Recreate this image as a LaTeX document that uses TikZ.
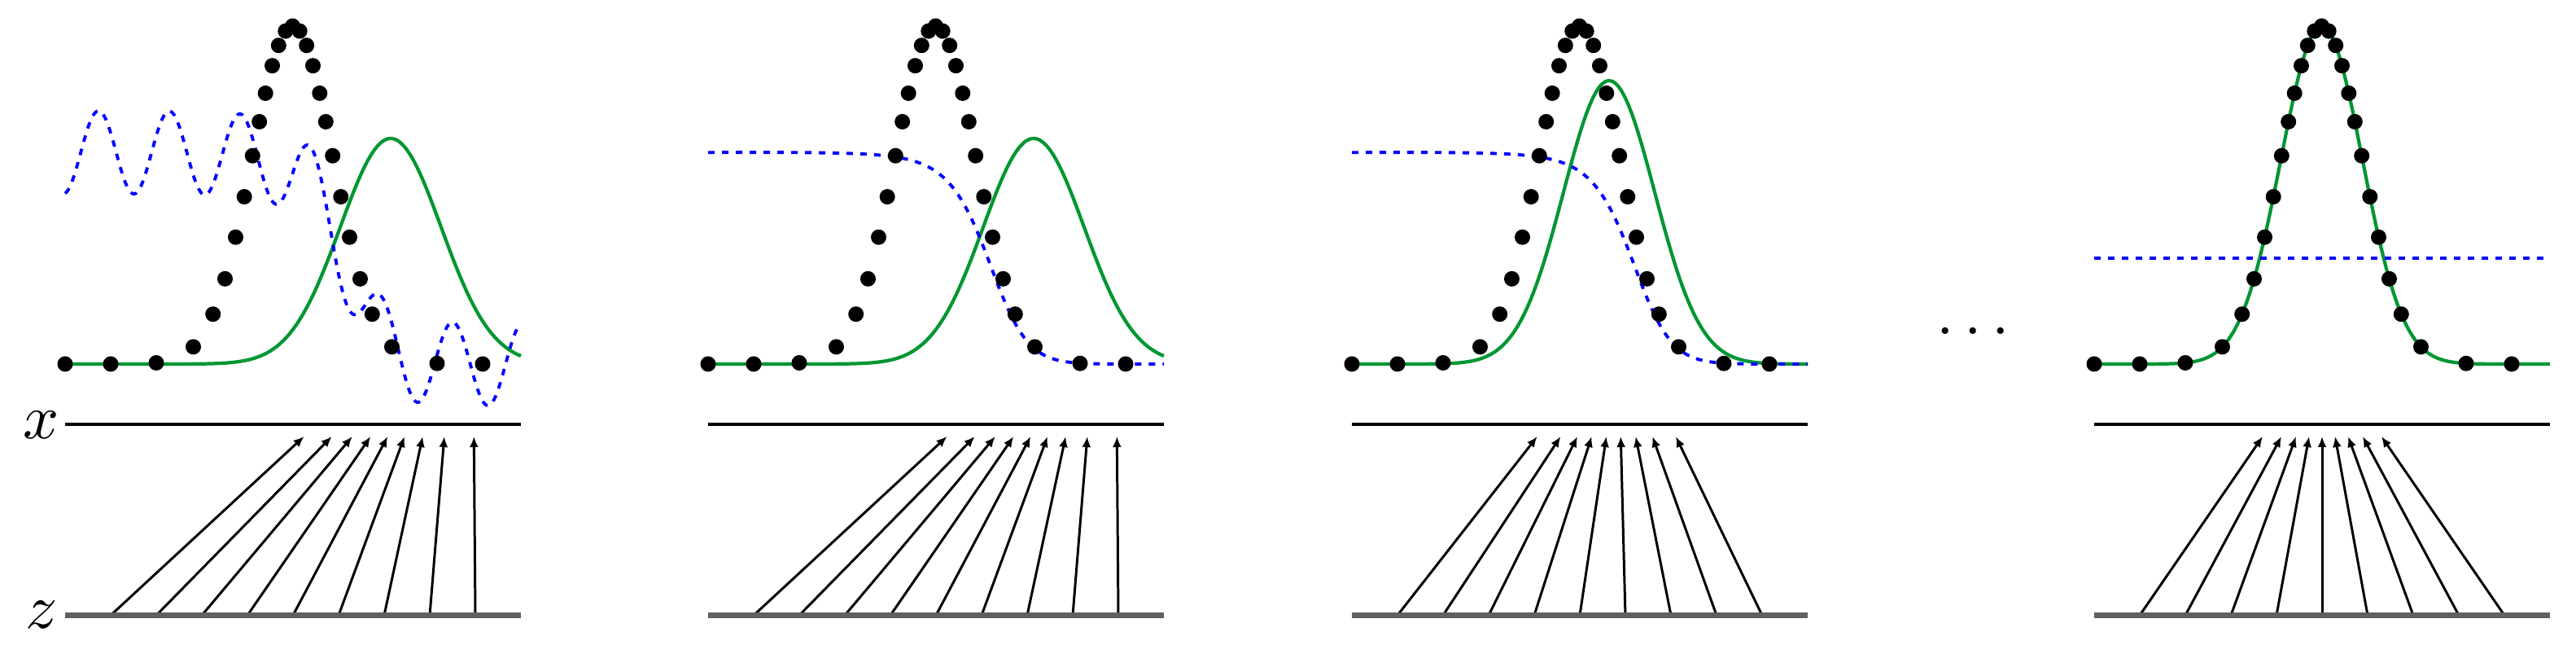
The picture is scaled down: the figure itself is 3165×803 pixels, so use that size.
\documentclass[tikz,border=0pt]{standalone}
\usetikzlibrary{arrows.meta}
\definecolor{dblue}{RGB}{0,0,255}
\definecolor{ggreen}{RGB}{0,150,50}
\definecolor{zgray}{RGB}{96,96,96}
\tikzset{
  declare function={
    datah(\t)=415*exp(max(-9,-0.5*((\t-279.5)/50)*((\t-279.5)/50)));
    gena(\t)=277*exp(max(-9,-0.5*((\t-400)/62)*((\t-400)/62)));
    genc(\t)=348*exp(max(-9,-0.5*((\t-316)/56)*((\t-316)/56)));
    disc(\t)=1/(1+exp(max(-9,min(9,-0.404-0.5*((\t-400)/62)*((\t-400)/62)+0.5*((\t-279.5)/50)*((\t-279.5)/50)))));
  },
  greenline/.style={ggreen,line width=1.2pt},
  blueline/.style={dblue,line width=1.1pt,dash pattern=on 0.8mm off 0.9mm},
  datadot/.style={fill=black},
  xaxis/.style={black,line width=1.3pt},
  zaxis/.style={zgray,line width=2pt},
  maparrow/.style={-{Latex[length=1.3mm,width=1.1mm]},line width=0.85pt},
  axislabel/.style={scale=2.2,inner sep=0pt}
}
\begin{document}
\begin{tikzpicture}[x=0.1mm,y=-0.1mm]
\useasboundingbox (0,0) rectangle (3165,803);

% ---------- common parts of the four panels ----------
\foreach \p/\s in {1/80,2/870,3/1661,4/2573} {
  \begin{scope}[shift={(\s,0)}]
    \coordinate (xa\p) at (0,521);
    \coordinate (xb\p) at (560,521);
    \draw[xaxis] (xa\p) -- (xb\p);
  \end{scope}
}

% ---------- panel 1 ----------
\begin{scope}[shift={(80,0)}]
  \draw[greenline] plot[domain=0:560,samples=141] (\x,{447-gena(\x)});
  \draw[blueline] plot[domain=0:557,samples=300] (\x,{447-260.7*disc(\x)-51*cos(4.137931*(\x-41))});
  \foreach \t in {0,56,112,157.5,181.7,196.5,209.5,220.2,230.3,238.7,246.2,254.5,262.3,270.8,279.5,288.2,296.7,304.5,312.8,320.3,328.7,338.8,349.5,362.5,377.3,401.5,457,513}
    \fill[datadot] (\t,{447-datah(\t)}) circle[radius=0.95mm];
  \foreach \k/\tx in {1/293.5,2/327.6,3/352.8,4/375.3,5/396.2,6/417,7/439.3,8/465.9,9/502.3} {
    \coordinate (za\k) at (56*\k,755.5);
    \coordinate (xt\k) at (\tx,536);
    \draw[maparrow] (za\k) -- (xt\k);
  }
  \coordinate (zs1) at (0,755.5);
  \coordinate (ze1) at (560,755.5);
  \draw[zaxis] (zs1) -- (ze1);
\end{scope}

% ---------- panel 2 ----------
\begin{scope}[shift={(870,0)}]
  \draw[greenline] plot[domain=0:560,samples=141] (\x,{447-gena(\x)});
  \draw[blueline] plot[domain=0:560,samples=141] (\x,{447-260.7*disc(\x)});
  \foreach \t in {0,56,112,157.5,181.7,196.5,209.5,220.2,230.3,238.7,246.2,254.5,262.3,270.8,279.5,288.2,296.7,304.5,312.8,320.3,328.7,338.8,349.5,362.5,377.3,401.5,457,513}
    \fill[datadot] (\t,{447-datah(\t)}) circle[radius=0.95mm];
  \foreach \k/\tx in {1/293.5,2/327.6,3/352.8,4/375.3,5/396.2,6/417,7/439.3,8/465.9,9/502.3} {
    \coordinate (zb\k) at (56*\k,755.5);
    \coordinate (xu\k) at (\tx,536);
    \draw[maparrow] (zb\k) -- (xu\k);
  }
  \coordinate (zs2) at (0,755.5);
  \coordinate (ze2) at (560,755.5);
  \draw[zaxis] (zs2) -- (ze2);
\end{scope}

% ---------- panel 3 ----------
\begin{scope}[shift={(1661,0)}]
  \draw[greenline] plot[domain=0:560,samples=141] (\x,{447-genc(\x)});
  \draw[blueline] plot[domain=0:560,samples=141] (\x,{447-260.7*disc(\x)});
  \foreach \t in {0,56,112,157.5,181.7,196.5,209.5,220.2,230.3,238.7,246.2,254.5,262.3,270.8,279.5,288.2,296.7,304.5,312.8,320.3,328.7,338.8,349.5,362.5,377.3,401.5,457,513}
    \fill[datadot] (\t,{447-datah(\t)}) circle[radius=0.95mm];
  \foreach \k/\tx in {1/227.7,2/256.4,3/277,4/294.6,5/312.6,6/330.3,7/348.7,8/369.3,9/398} {
    \coordinate (zc\k) at (56*\k,755.5);
    \coordinate (xv\k) at (\tx,536);
    \draw[maparrow] (zc\k) -- (xv\k);
  }
  \coordinate (zs3) at (0,755.5);
  \coordinate (ze3) at (560,755.5);
  \draw[zaxis] (zs3) -- (ze3);
\end{scope}

% ---------- panel 4 ----------
\begin{scope}[shift={(2573,0)}]
  \draw[greenline] plot[domain=0:560,samples=141] (\x,{447-datah(\x)});
  \coordinate (da4) at (0,316.6);
  \coordinate (db4) at (558,316.6);
  \draw[blueline] (da4) -- (db4);
  \foreach \t in {0,56,112,157.5,181.7,196.5,209.5,220.2,230.3,238.7,246.2,254.5,262.3,270.8,279.5,288.2,296.7,304.5,312.8,320.3,328.7,338.8,349.5,362.5,377.3,401.5,457,513}
    \fill[datadot] (\t,{447-datah(\t)}) circle[radius=0.95mm];
  \foreach \k/\tx in {1/207,2/230,3/248,4/264,5/280,6/296,7/312,8/330,9/353} {
    \coordinate (zd\k) at (56*\k,755.5);
    \coordinate (xw\k) at (\tx,536);
    \draw[maparrow] (zd\k) -- (xw\k);
  }
  \coordinate (zs4) at (0,755.5);
  \coordinate (ze4) at (560,755.5);
  \draw[zaxis] (zs4) -- (ze4);
\end{scope}

% ---------- labels ----------
\node[axislabel] (xlab) at (51,522) {$x$};
\node[axislabel] (zlab) at (51,755) {$z$};
\node[axislabel] (dots) at (2424.5,406) {$\ldots$};
\end{tikzpicture}
\end{document}
